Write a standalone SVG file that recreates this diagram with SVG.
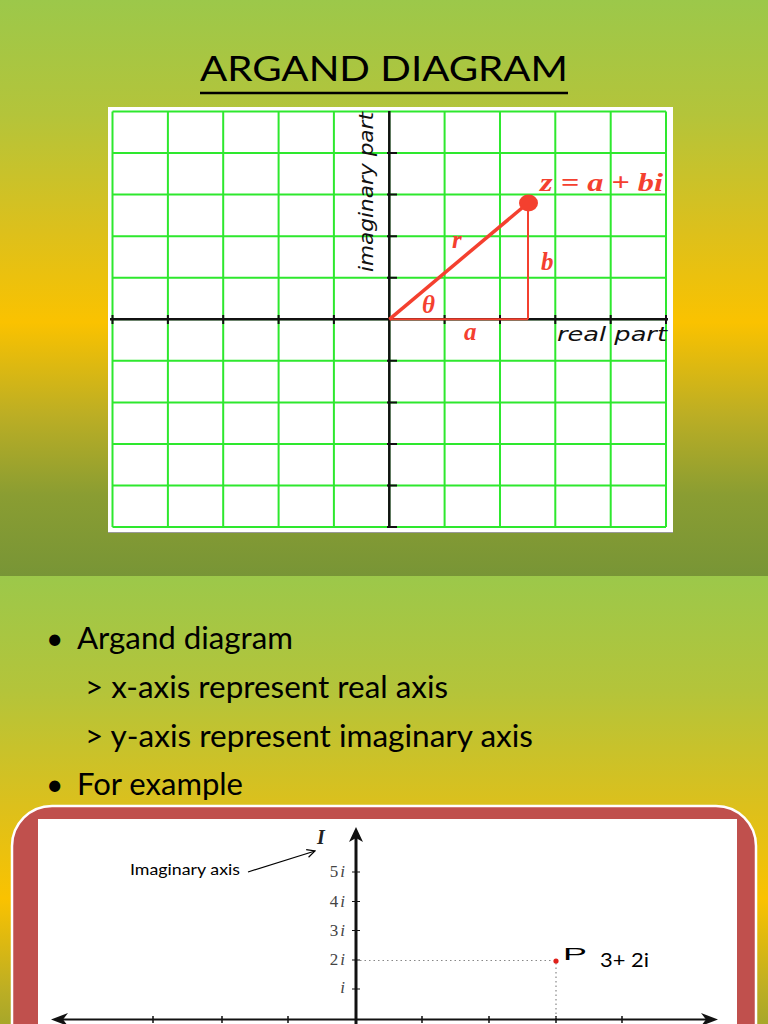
<svg xmlns="http://www.w3.org/2000/svg" width="768" height="1024" viewBox="0 0 768 1024">
  <defs>
    <linearGradient id="bg" x1="0" y1="0" x2="0" y2="1">
      <stop offset="0" stop-color="#9cc84a"/>
      <stop offset="0.2" stop-color="#b4c43a"/>
      <stop offset="0.4" stop-color="#dcc01c"/>
      <stop offset="0.56" stop-color="#fac200"/>
      <stop offset="0.72" stop-color="#bcae24"/>
      <stop offset="0.86" stop-color="#8a9d32"/>
      <stop offset="1" stop-color="#789536"/>
    </linearGradient>
    <marker id="open" viewBox="0 0 10 10" refX="9" refY="5" markerWidth="10" markerHeight="10" markerUnits="userSpaceOnUse" orient="auto">
      <path d="M1,1 L9,5 L1,9" fill="none" stroke="#000" stroke-width="1.2"/>
    </marker>
    <style>
      .grid { stroke: #2ee82e; stroke-width: 2; fill: none; }
      .axis { stroke: #111; stroke-width: 2.5; fill: none; }
      .tick { stroke: #111; stroke-width: 2; }
      .red { fill: #f4402f; font-family: "Liberation Serif", serif; font-style: italic; font-weight: bold; font-size: 25px; }
      .lab { fill: #111; font-family: "DejaVu Sans", sans-serif; font-style: italic; font-size: 19px; }
      .body { fill: #000; font-family: Lato, "Open Sans", sans-serif; font-size: 30px; }
      .num { fill: #444; font-family: "Liberation Serif", serif; font-size: 17px; text-anchor: end; letter-spacing: 2px; }
      .dot { stroke: #888; stroke-width: 1.2; stroke-dasharray: 1.5 3; fill: none; }
    </style>
  </defs>

  <!-- slide backgrounds -->
  <rect x="0" y="0" width="768" height="576" fill="url(#bg)"/>
  <rect x="0" y="576" width="768" height="576" fill="url(#bg)"/>

  <!-- title -->
  <g id="title">
    <text x="200" y="81" font-family="Lato, 'Open Sans', sans-serif" font-size="34" fill="#000" textLength="368" lengthAdjust="spacingAndGlyphs">ARGAND DIAGRAM</text>
    <line x1="200" y1="93" x2="568" y2="93" stroke="#000" stroke-width="2.5"/>
  </g>

  <!-- top grid picture -->
  <g id="grid-picture">
    <rect x="108" y="107" width="565" height="425" fill="#fff"/>
    <line x1="108" y1="532.5" x2="673" y2="532.5" stroke="#999" stroke-width="1"/>
    <g class="grid">
      <path d="M112.5,111.5V527M167.9,111.5V527M223.2,111.5V527M278.6,111.5V527M333.9,111.5V527M389.3,111.5V527M444.6,111.5V527M500,111.5V527M555.3,111.5V527M610.7,111.5V527M666,111.5V527"/>
      <path d="M112.5,111.5H666M112.5,153H666M112.5,194.6H666M112.5,236.2H666M112.5,277.7H666M112.5,319.3H666M112.5,360.8H666M112.5,402.4H666M112.5,443.9H666M112.5,485.5H666M112.5,527H666"/>
    </g>
    <g id="axes">
      <line class="axis" x1="110" y1="319.3" x2="668" y2="319.3"/>
      <line class="axis" x1="389.3" y1="111" x2="389.3" y2="528"/>
      <path class="tick" d="M112.5,315V324M167.9,315V324M223.2,315V324M278.6,315V324M333.9,315V324M444.6,315V324M500,315V324M555.3,315V324M610.7,315V324M666,315V324"/>
      <path class="tick" d="M387,153H397M387,194.6H397M387,236.2H397M387,277.7H397M387,360.8H397M387,402.4H397M387,443.9H397M387,485.5H397M387,527H397"/>
    </g>
    <g id="vector">
      <line x1="389.3" y1="319.3" x2="528" y2="319.3" stroke="#f4402f" stroke-width="2"/>
      <line x1="528" y1="203" x2="528" y2="319.3" stroke="#f4402f" stroke-width="2"/>
      <line x1="389.3" y1="319.3" x2="528" y2="203" stroke="#f4402f" stroke-width="3.5"/>
      <ellipse cx="528.5" cy="203" rx="9.5" ry="8.5" fill="#f4402f"/>
    </g>
    <text class="red" x="540" y="191" textLength="123" lengthAdjust="spacingAndGlyphs">z = a + bi</text>
    <text class="red" x="452" y="248">r</text>
    <text class="red" x="541" y="270">b</text>
    <text class="red" x="422" y="313">θ</text>
    <text class="red" x="464" y="340">a</text>
    <text class="lab" x="557" y="341" textLength="110" lengthAdjust="spacingAndGlyphs">real part</text>
    <text class="lab" transform="translate(373,272) rotate(-90)" x="0" y="0" textLength="160" lengthAdjust="spacingAndGlyphs">imaginary part</text>
  </g>

  <!-- bullet text -->
  <g id="bullets">
    <text class="body" x="46" y="649" font-size="26">•</text>
    <text class="body" x="77" y="649" textLength="216" lengthAdjust="spacingAndGlyphs">Argand diagram</text>
    <text class="body" x="85" y="698" textLength="363" lengthAdjust="spacingAndGlyphs">&gt; x-axis represent real axis</text>
    <text class="body" x="85" y="747" textLength="448" lengthAdjust="spacingAndGlyphs">&gt; y-axis represent imaginary axis</text>
    <text class="body" x="46" y="795" font-size="26">•</text>
    <text class="body" x="77" y="795" textLength="166" lengthAdjust="spacingAndGlyphs">For example</text>
  </g>

  <!-- example frame -->
  <g id="example-frame">
    <rect x="12" y="806" width="744" height="320" rx="40" ry="40" fill="#c0504d" stroke="#fff" stroke-width="2.5"/>
    <rect x="38" y="819" width="699" height="230" fill="#fff"/>
  </g>

  <!-- example plot -->
  <g id="example-plot">
    <g id="connectors">
      <line x1="356" y1="1024" x2="356" y2="832" stroke="#111" stroke-width="3"/>
      <path d="M356,827 L349,842 L356,838 L363,842 Z" fill="#111"/>
      <line x1="56" y1="1019.5" x2="712" y2="1019.5" stroke="#111" stroke-width="2"/>
      <path d="M51,1019.5 L68,1013 L63,1019.5 L68,1026 Z" fill="#111"/>
      <path d="M718,1019.5 L701,1013 L706,1019.5 L701,1026 Z" fill="#111"/>
      <path d="M153,1016V1023M222,1016V1023M288,1016V1023M422,1016V1023M489,1016V1023M556,1016V1023M622,1016V1023" stroke="#111" stroke-width="1.5"/>
      <path d="M352,872H360M352,901.5H360M352,930.5H360M352,960H360M352,989H360" stroke="#111" stroke-width="1.2"/>
      <line class="dot" x1="360" y1="960.5" x2="553" y2="960.5"/>
      <line class="dot" x1="556" y1="963" x2="556" y2="1018"/>
      <line x1="248" y1="872" x2="315" y2="851" stroke="#000" stroke-width="1.2" marker-end="url(#open)"/>
    </g>
    <g id="labels">
      <text x="317" y="844" font-family="'Liberation Serif', serif" font-style="italic" font-weight="bold" font-size="20" fill="#222">I</text>
      <text class="num" x="347" y="877">5<tspan font-style="italic">i</tspan></text>
      <text class="num" x="347" y="906.5">4<tspan font-style="italic">i</tspan></text>
      <text class="num" x="347" y="935.5">3<tspan font-style="italic">i</tspan></text>
      <text class="num" x="347" y="965">2<tspan font-style="italic">i</tspan></text>
      <text class="num" x="347" y="993" font-style="italic">i</text>
      <text x="130" y="875" font-family="Lato, 'Open Sans', sans-serif" font-size="16" fill="#000" textLength="110" lengthAdjust="spacingAndGlyphs">Imaginary axis</text>
    </g>
    <g id="point-P">
      <circle cx="556" cy="961" r="2.6" fill="#e0201a"/>
      <text x="563" y="960" font-family="'Liberation Sans', sans-serif" font-size="17" fill="#000" textLength="24" lengthAdjust="spacingAndGlyphs">P</text>
      <text x="600" y="967" font-family="Lato, 'Open Sans', sans-serif" font-size="20" fill="#000" textLength="49" lengthAdjust="spacingAndGlyphs">3+ 2i</text>
    </g>
  </g>
</svg>
